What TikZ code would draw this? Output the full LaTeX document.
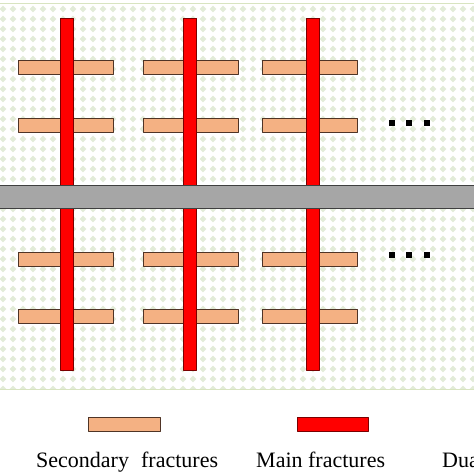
\documentclass[tikz,border=0pt]{standalone}
\usepackage{fontspec}
\setmainfont{Liberation Serif}
\definecolor{dotgreen}{HTML}{E2EBD8}
\definecolor{edgegreen}{HTML}{D8E4C0}
\definecolor{secfill}{HTML}{F4B183}
\definecolor{secedge}{HTML}{4F3426}
\definecolor{mainedge}{HTML}{7A0000}
\definecolor{bandfill}{HTML}{A6A6A6}
\definecolor{bandedge}{HTML}{3F3F3F}
\tikzset{
  secbar/.style={fill=secfill, draw=secedge, line width=0.8pt},
  mainbar/.style={fill=red, draw=mainedge, line width=0.6pt},
  band/.style={fill=bandfill, draw=bandedge, line width=0.8pt},
  legtext/.style={anchor=base west, inner sep=0pt}
}
\begin{document}
\begin{tikzpicture}[x=1pt, y=-1pt, line join=round, font=\fontsize{22}{25}\selectfont]
			\useasboundingbox (0,0) rectangle (474,474);
			\def \ytop{3};\def \ybot{389};
			% dotted background
			\begin{scope}
				\clip (0,\ytop) rectangle (474,\ybot);
				\foreach \i in {0,...,47} \foreach \j in {0,...,38}
					\fill[dotgreen] ({10*\i+3},{10*\j+9}) +(0,-3.3) -- +(3.3,0) -- +(0,3.3) -- +(-3.3,0) -- cycle;
			\end{scope}
			\draw[edgegreen, line width=1pt] (0,\ytop) -- (474,\ytop) (0,\ybot) -- (474,\ybot);
			% secondary fractures
			\foreach \x in {65.5,191,310} \foreach \y in {67,125,259,316}
				\draw[secbar] (\x-47.5,\y-7) rectangle (\x+47.5,\y+7);
			% main fractures
			\foreach \x in {67,190,313} \draw[mainbar] (\x-6.5,18) rectangle (\x+6.5,370);
			% wellbore
			\draw[band] (-2,185) rectangle (476,208);
			\foreach \y in {123,255} \foreach \x in {391.5,409,426.5}
				\fill (\x-3,\y-3) rectangle (\x+3,\y+3);
			% legend
			\draw[secbar] (88,417) rectangle (160,431);
			\draw[mainbar] (297,417) rectangle (368,431);
			\node[legtext] (secleg) at (36,467) {Secondary\hspace{0.3em} fractures};
			\node[legtext] (mainleg) at (256,467) {Main fractures};
			\node[legtext] (dualleg) at (442,467) {Dua};
		\end{tikzpicture}
\end{document}
